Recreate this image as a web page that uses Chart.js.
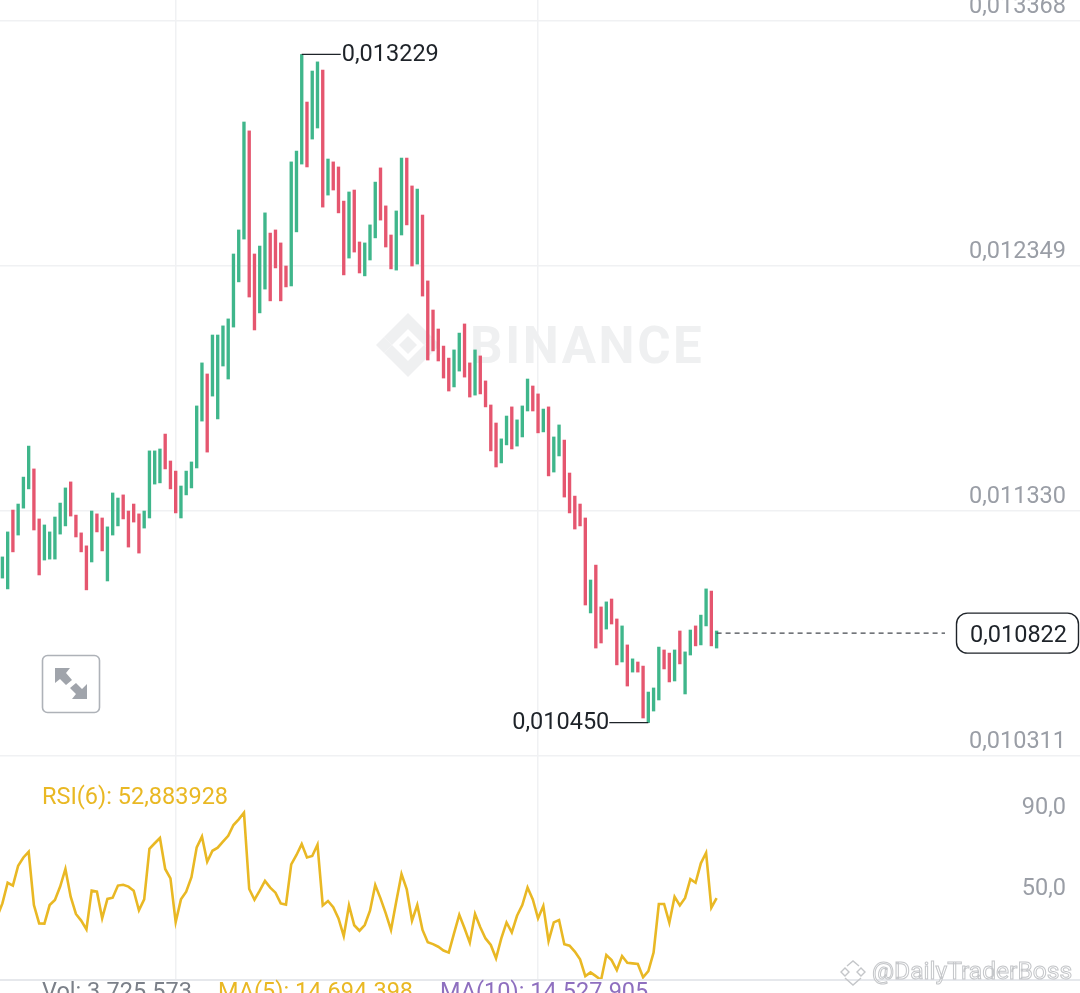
<!DOCTYPE html>
<html>
<head>
<meta charset="utf-8">
<title>Gráfico</title>
<style>
html, body { margin: 0; padding: 0; background: #fff; overflow: hidden; }
canvas { display: block; }
</style>
<script src="https://cdn.jsdelivr.net/npm/chart.js@4/dist/chart.umd.min.js"></script>
</head>
<body>
<canvas id="grafico" width="1080" height="993"></canvas>
<script>
const barHighs = [
    0.011139,0.011243,0.011334,0.011359,0.011471,0.011600,0.011505,0.011297,0.011272,0.011243,
    0.011305,0.011363,0.011426,0.011451,0.011313,0.011239,0.011185,0.011330,0.011318,0.011301,
    0.011264,0.011405,0.011384,0.011397,0.011330,0.011359,0.011318,0.011330,0.011580,0.011580,
    0.011588,0.011650,0.011538,0.011496,0.011434,0.011496,0.011534,0.011767,0.011946,0.011900,
    0.012062,0.012062,0.012100,0.012129,0.012399,0.012499,0.012948,0.012911,0.012399,0.012432,
    0.012570,0.012486,0.012499,0.012445,0.012349,0.012782,0.012827,0.013229,0.013031,0.013160,
    0.013198,0.013164,0.012794,0.012782,0.012761,0.012619,0.012657,0.012665,0.012449,0.012445,
    0.012520,0.012698,0.012757,0.012599,0.012478,0.012578,0.012798,0.012798,0.012682,0.012669,
    0.012561,0.012287,0.012166,0.012087,0.012016,0.011966,0.012000,0.012070,0.012108,0.011946,
    0.012000,0.011975,0.011871,0.011771,0.011696,0.011630,0.011725,0.011763,0.011709,0.011767,
    0.011879,0.011850,0.011817,0.011754,0.011763,0.011638,0.011688,0.011625,0.011488,0.011392,
    0.011359,0.011301,0.011043,0.011105,0.010931,0.010952,0.010964,0.010881,0.010852,0.010773,
    0.010715,0.010702,0.010685,0.010577,0.010594,0.010764,0.010752,0.010739,0.010752,0.010831,
    0.010744,0.010835,0.010852,0.010897,0.011006,0.010997,0.010831
];
const barLows = [
    0.011051,0.011006,0.011160,0.011230,0.011342,0.011422,0.011251,0.011064,0.011126,0.011130,
    0.011130,0.011234,0.011268,0.011309,0.011222,0.011160,0.011002,0.011118,0.011243,0.011164,
    0.011039,0.011230,0.011268,0.011297,0.011180,0.011284,0.011155,0.011259,0.011301,0.011442,
    0.011447,0.011505,0.011422,0.011322,0.011301,0.011397,0.011426,0.011509,0.011704,0.011575,
    0.011808,0.011713,0.011933,0.011879,0.012095,0.012283,0.012461,0.012220,0.012083,0.012154,
    0.012253,0.012204,0.012341,0.012204,0.012262,0.012266,0.012491,0.012773,0.012761,0.012877,
    0.012923,0.012594,0.012644,0.012665,0.012570,0.012312,0.012382,0.012407,0.012320,0.012308,
    0.012374,0.012466,0.012540,0.012428,0.012337,0.012332,0.012478,0.012520,0.012349,0.012357,
    0.012224,0.011958,0.011996,0.011954,0.011883,0.011829,0.011846,0.011912,0.011887,0.011804,
    0.011812,0.011817,0.011763,0.011580,0.011513,0.011530,0.011605,0.011588,0.011600,0.011638,
    0.011746,0.011746,0.011655,0.011659,0.011476,0.011492,0.011559,0.011388,0.011322,0.011255,
    0.011268,0.010939,0.010906,0.010760,0.010781,0.010839,0.010860,0.010690,0.010702,0.010602,
    0.010660,0.010660,0.010469,0.010450,0.010498,0.010544,0.010673,0.010619,0.010623,0.010694,
    0.010569,0.010731,0.010769,0.010773,0.010852,0.010769,0.010760
];
// 1 = alta (verde), 0 = baixa (vermelho)
const barRising = [
    1,1,0,1,1,1,0,0,1,1, 1,1,1,0,0,0,0,1,0,0, 1,1,1,0,0,0,0,1,1,1, 1,0,0,0,1,1,1,1,1,0,
    1,1,1,1,1,1,1,0,0,1, 1,0,0,0,0,1,1,1,0,1, 1,0,1,0,0,0,1,0,0,1, 1,1,0,0,0,1,1,0,0,1,
    0,0,0,0,0,0,1,1,0,0, 1,0,0,0,0,1,1,0,1,1, 1,0,0,1,0,1,1,0,0,0, 0,0,1,0,0,1,0,0,1,0,
    1,0,0,1,1,1,0,0,1,0, 1,1,0,1,1,0,1
];
// o primeiro valor pertence a barra anterior, fora da tela
const rsiValues = [
    43.7,
    50.3,60.5,59.1,68.9,73.0,75.8,49.5,40.4,40.3,49.5,
    52.0,58.6,67.3,53.6,45.1,41.8,37.5,56.6,56.1,42.9,
    52.5,53.1,59.1,59.5,58.6,56.6,46.9,52.3,77.3,80.0,
    82.6,67.3,62.7,41.1,52.3,56.1,63.2,78.0,83.3,70.9,
    76.3,77.8,80.8,83.7,89.0,91.8,95.1,57.4,52.1,56.6,
    61.4,58.1,55.6,50.3,49.7,69.6,74.2,79.6,73.0,73.7,
    79.3,49.3,51.5,48.4,42.9,34.2,49.3,39.5,36.8,39.6,
    46.7,59.4,52.8,45.4,37.2,51.2,64.8,57.2,41.8,49.5,
    37.2,31.1,30.2,28.9,27.0,26.0,35.5,44.7,38.0,30.9,
    45.1,38.5,33.0,29.8,23.2,33.0,40.9,36.0,44.2,49.5,
    58.2,52.3,42.9,49.0,31.7,40.9,42.1,30.1,29.4,26.5,
    22.7,14.4,16.2,14.4,12.5,24.8,22.3,17.4,24.3,21.0,
    20.7,20.4,13.8,16.9,26.0,50.0,50.0,40.8,53.6,49.3,
    53.0,62.3,60.5,70.1,75.3,48.2,52.88
];
const priceTicks = [0.013368, 0.012349, 0.011330, 0.010311];
const rsiTicks = [90, 50];
const timeGridBars = [33, 102];

const highBar = 57;
const lowBar = 123;
const lastPrice = 0.010822;
const rsiLabel = 'RSI(6): 52,883928';

const VERDE = '#3fb68b';
const VERMELHO = '#e5566f';
const AMARELO = '#e9b824';
const GRADE = '#f0f1f3';
const CINZA_TEXTO = '#9a9ea6';
const PRETO = '#1e2329';
const FONTE = 'Roboto, sans-serif';

function virgula(valor, casas){
    return valor.toFixed(casas).replace('.', ',');
}

function losango(ctx, x, y, r){
    ctx.beginPath();
    ctx.moveTo(x, y - r);
    ctx.lineTo(x + r, y);
    ctx.lineTo(x, y + r);
    ctx.lineTo(x - r, y);
    ctx.closePath();
    ctx.fill();
}

function divisa(ctx, x, y, r, sentido){
    // aba do logo, sentido -1 em cima e 1 embaixo
    ctx.beginPath();
    ctx.moveTo(x, y);
    ctx.lineTo(x + r, y - sentido * r);
    ctx.lineTo(x + r - 8, y - sentido * (r + 8));
    ctx.lineTo(x, y - sentido * 16);
    ctx.lineTo(x - r + 8, y - sentido * (r + 8));
    ctx.lineTo(x - r, y - sentido * r);
    ctx.closePath();
    ctx.fill();
}

const marcaDagua = {
    id: 'marcaDagua',
    beforeDatasetsDraw(chart){
        const ctx = chart.ctx;
        ctx.save();
        ctx.fillStyle = '#eff0f1';
        losango(ctx, 408, 345, 9);
        losango(ctx, 384, 345, 8);
        losango(ctx, 432, 345, 8);
        divisa(ctx, 408, 313, 24, -1);
        divisa(ctx, 408, 377, 24, 1);
        ctx.font = 'bold 51px ' + FONTE;
        ctx.letterSpacing = '2.6px';
        ctx.textAlign = 'left';
        ctx.textBaseline = 'alphabetic';
        ctx.fillText('BINANCE', 470, 363);
        ctx.restore();
    }
};

const anotacoes = {
    id: 'anotacoes',
    afterDatasetsDraw(chart){
        const ctx = chart.ctx;
        const x = chart.scales.x;
        const y = chart.scales.y;
        const rsi = chart.scales.yRsi;
        const fundoRsi = rsi.getPixelForValue(rsi.min);

        ctx.save();
        ctx.textBaseline = 'middle';
        ctx.font = '23.5px ' + FONTE;

        // borda inferior do painel
        ctx.strokeStyle = '#e6e8ec';
        ctx.lineWidth = 2;
        ctx.beginPath();
        ctx.moveTo(0, fundoRsi);
        ctx.lineTo(1080, fundoRsi);
        ctx.stroke();

        // maxima e minima
        ctx.strokeStyle = PRETO;
        ctx.fillStyle = PRETO;
        ctx.lineWidth = 1.2;
        const xMax = x.getPixelForValue(highBar);
        const yMax = y.getPixelForValue(barHighs[highBar]);
        ctx.beginPath();
        ctx.moveTo(xMax, yMax);
        ctx.lineTo(xMax + 39, yMax);
        ctx.stroke();
        ctx.textAlign = 'left';
        ctx.fillText(virgula(barHighs[highBar], 6), xMax + 40, yMax + 1);

        const xMin = x.getPixelForValue(lowBar);
        const yMin = y.getPixelForValue(barLows[lowBar]);
        ctx.beginPath();
        ctx.moveTo(xMin, yMin);
        ctx.lineTo(xMin - 39, yMin);
        ctx.stroke();
        ctx.textAlign = 'right';
        ctx.fillText(virgula(barLows[lowBar], 6), xMin - 39, yMin + 1);

        // preco atual
        const yUltimo = y.getPixelForValue(lastPrice);
        ctx.strokeStyle = '#44484f';
        ctx.setLineDash([5, 4]);
        ctx.beginPath();
        ctx.moveTo(x.getPixelForValue(barHighs.length - 1), yUltimo);
        ctx.lineTo(945, yUltimo);
        ctx.stroke();
        ctx.setLineDash([]);
        ctx.fillStyle = '#fff';
        ctx.strokeStyle = PRETO;
        ctx.lineWidth = 1.4;
        ctx.beginPath();
        ctx.roundRect(956.5, yUltimo - 20, 122, 40, 11);
        ctx.fill();
        ctx.stroke();
        ctx.fillStyle = PRETO;
        ctx.textAlign = 'right';
        ctx.fillText(virgula(lastPrice, 6), 1067, yUltimo + 3);

        // botao de expandir
        ctx.strokeStyle = '#aeb2b8';
        ctx.lineWidth = 1.6;
        ctx.fillStyle = '#fff';
        ctx.beginPath();
        ctx.roundRect(42.5, 655.5, 57, 57, 5);
        ctx.fill();
        ctx.stroke();
        ctx.fillStyle = '#a0a4ab';
        ctx.beginPath();
        ctx.moveTo(55, 668);
        ctx.lineTo(70, 668);
        ctx.lineTo(66, 673);
        ctx.lineTo(72, 680);
        ctx.lineTo(66, 685);
        ctx.lineTo(60, 679);
        ctx.lineTo(55, 683);
        ctx.closePath();
        ctx.fill();
        ctx.beginPath();
        ctx.moveTo(87, 699);
        ctx.lineTo(72, 699);
        ctx.lineTo(76, 694);
        ctx.lineTo(70, 688);
        ctx.lineTo(76, 683);
        ctx.lineTo(82, 689);
        ctx.lineTo(87, 684);
        ctx.closePath();
        ctx.fill();

        // legendas dos paineis
        ctx.textAlign = 'left';
        ctx.textBaseline = 'alphabetic';
        ctx.fillStyle = AMARELO;
        ctx.fillText(rsiLabel, 42, 804);
        ctx.fillStyle = '#7b8089';
        ctx.fillText('Vol: 3.725.573', 42, 999);
        ctx.fillStyle = AMARELO;
        ctx.fillText('MA(5): 14.694.398', 218, 999);
        ctx.fillStyle = '#8e6fbf';
        ctx.fillText('MA(10): 14.527.905', 440, 999);

        // selo do autor
        ctx.font = '24.6px ' + FONTE;
        ctx.fillStyle = '#fff';
        ctx.strokeStyle = '#c4c6c9';
        ctx.lineWidth = 1;
        ctx.fillText('@DailyTraderBoss', 872, 979);
        ctx.strokeText('@DailyTraderBoss', 872, 979);
        ctx.lineWidth = 1.4;
        ctx.beginPath();
        ctx.moveTo(847, 966); ctx.lineTo(853, 961); ctx.lineTo(859, 966);
        ctx.moveTo(841, 972); ctx.lineTo(845, 968); ctx.lineTo(849, 972); ctx.lineTo(845, 976); ctx.closePath();
        ctx.moveTo(857, 972); ctx.lineTo(861, 968); ctx.lineTo(865, 972); ctx.lineTo(861, 976); ctx.closePath();
        ctx.moveTo(845, 978); ctx.lineTo(853, 985); ctx.lineTo(861, 978);
        ctx.stroke();
        ctx.restore();
    }
};

function semMargem(eixo){
    eixo.width = 0;
    eixo.paddingTop = 0;
    eixo.paddingBottom = 0;
}

new Chart(document.getElementById('grafico'), {
    type: 'bar',
    data: {
        datasets: [{
            yAxisID: 'y',
            data: barHighs.map((alto, i) => ({ x: i, y: [barLows[i], alto] })),
            backgroundColor: barRising.map(r => r ? VERDE : VERMELHO),
            barThickness: 2.7,
            borderWidth: 0
        }, {
            type: 'line',
            yAxisID: 'yRsi',
            data: rsiValues.map((v, i) => ({ x: i - 1, y: v })),
            borderColor: AMARELO,
            borderWidth: 2.6,
            pointRadius: 0,
            tension: 0
        }]
    },
    options: {
        responsive: false,
        animation: false,
        devicePixelRatio: 1,
        layout: { padding: { left: 0, right: 0, top: 0, bottom: 13 } },
        plugins: { legend: { display: false }, tooltip: { enabled: false } },
        scales: {
            x: {
                type: 'linear',
                offset: false,
                min: -0.457,
                max: 205.2,
                afterBuildTicks: eixo => { eixo.ticks = timeGridBars.map(v => ({ value: v })); },
                ticks: { display: false },
                grid: { offset: false, color: GRADE, lineWidth: 1.5, drawTicks: false },
                border: { display: false }
            },
            y: {
                position: 'right',
                stack: 'paineis',
                stackWeight: 756,
                min: 0.010311,
                max: 0.0134554,
                afterBuildTicks: eixo => { eixo.ticks = priceTicks.map(v => ({ value: v })); },
                afterFit: semMargem,
                ticks: {
                    mirror: true,
                    padding: -14,
                    labelOffset: -14,
                    color: CINZA_TEXTO,
                    font: { family: FONTE, size: 23.5 },
                    callback: v => virgula(v, 6)
                },
                grid: { color: GRADE, lineWidth: 1.5, drawTicks: false },
                border: { display: false }
            },
            yRsi: {
                position: 'right',
                stack: 'paineis',
                stackWeight: 224,
                min: 12.47,
                max: 123.1,
                afterBuildTicks: eixo => { eixo.ticks = rsiTicks.map(v => ({ value: v })); },
                afterFit: semMargem,
                ticks: {
                    mirror: true,
                    padding: -14,
                    labelOffset: -15,
                    color: CINZA_TEXTO,
                    font: { family: FONTE, size: 23.5 },
                    callback: v => virgula(v, 1)
                },
                grid: { display: false, drawTicks: false },
                border: { display: false }
            }
        }
    },
    plugins: [marcaDagua, anotacoes]
});
</script>
</body>
</html>
